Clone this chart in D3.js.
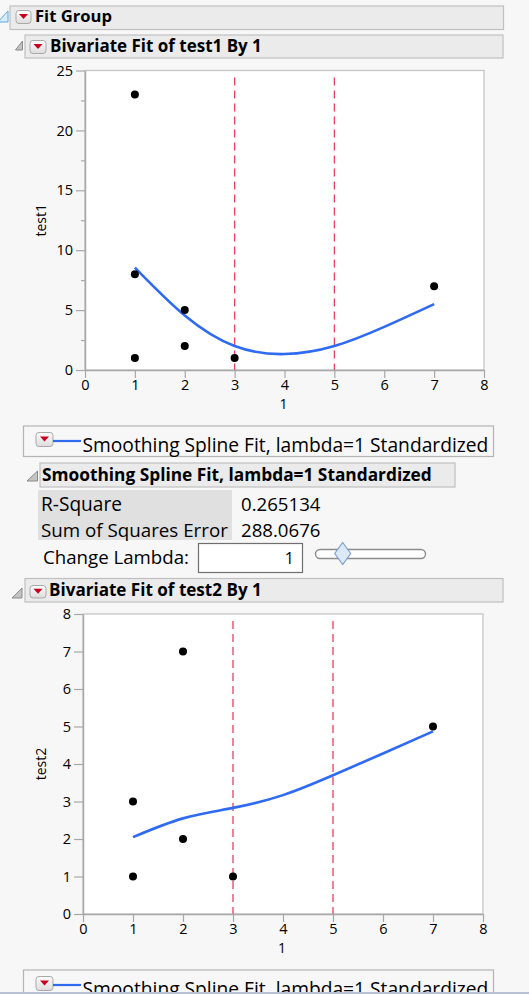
<!DOCTYPE html>
<html>
<head>
<meta charset="utf-8">
<script src="https://cdn.jsdelivr.net/npm/d3@7"></script>
<style>
  body { margin: 0; background: #f7f7f7; overflow: hidden; }
  text { font-family: "Segoe UI", "Open Sans", sans-serif; fill: #000; }
</style>
</head>
<body>
<div id="chart"></div>
<script>
// data
var xTicks = [0, 1, 2, 3, 4, 5, 6, 7, 8];
var test1X = [1, 1, 1, 2, 2, 3, 7];
var test1Y = [23, 8, 1, 5, 2, 1, 7];
var test2X = [1, 1, 2, 2, 3, 7];
var test2Y = [3, 1, 7, 2, 1, 5];
var fitX = [1, 2, 3, 4, 5, 6, 7];
var fit1Y = [8.55, 4.55, 2.0, 1.33, 2.0, 3.6, 5.5];
var fit2Y = [2.05, 2.55, 2.83, 3.17, 3.7, 4.28, 4.87];
var refLines = [3, 5];
var y1Ticks = [0, 5, 10, 15, 20, 25];
var y1Minor = [2.5, 7.5, 12.5, 17.5, 22.5];
var y2Ticks = [0, 1, 2, 3, 4, 5, 6, 7, 8];
var fitLabel = "Smoothing Spline Fit, lambda=1 Standardized";
var statNames = ["R-Square", "Sum of Squares Error"];
var statValues = ["0.265134", "288.0676"];
var lambdaValue = 1;

var width = 529, height = 994;
var FONT = '"Segoe UI", "Open Sans", sans-serif';

var svg = d3.select("#chart").append("svg")
    .attr("width", width)
    .attr("height", height)

var defs = svg.append("defs")
var grad = defs.append("linearGradient").attr("id", "btn").attr("x1", 0).attr("y1", 0).attr("x2", 0).attr("y2", 1)
grad.append("stop").attr("offset", "0%").attr("stop-color", "#fdfdfd")
grad.append("stop").attr("offset", "100%").attr("stop-color", "#dcdcdc")
defs.append("clipPath").attr("id", "page").append("rect")
    .attr("x", 0).attr("y", 0).attr("width", width).attr("height", 992)

var page = svg.append("g").attr("clip-path", "url(#page)")

// shrink/grow a text so it spans the same width as in the report
function fitText(t, w) {
  var fs = parseFloat(t.attr("font-size"))
  var l = t.node().getComputedTextLength()
  if (l > 0) t.attr("font-size", fs * w / l)
  return t
}

function label(g, x, y, str, size, weight, w) {
  var t = g.append("text")
      .attr("x", x).attr("y", y)
      .attr("font-size", size)
      .attr("font-weight", weight || "normal")
      .text(str)
  if (w) fitText(t, w)
  return t
}

function headerBox(g, x0, x1, y0, y1) {
  g.append("rect")
      .attr("x", x0 + 0.5).attr("y", y0 + 0.5)
      .attr("width", x1 - x0).attr("height", y1 - y0)
      .attr("fill", "#ebebeb")
      .attr("stroke", "#c0c0c0")
      .attr("stroke-width", 1.2)
}

function redButton(g, x0, y0, w, h) {
  g.append("rect")
      .attr("x", x0 + 0.5).attr("y", y0 + 0.5)
      .attr("width", w).attr("height", h)
      .attr("rx", 3)
      .attr("fill", "url(#btn)")
      .attr("stroke", "#a9a9a9")
  var cx = x0 + w / 2 + 0.5, cy = y0 + h / 2
  g.append("path")
      .attr("d", "M" + (cx - 4.5) + "," + (cy - 2.5) + "L" + (cx + 4.5) + "," + (cy - 2.5) + "L" + cx + "," + (cy + 2.5) + "Z")
      .attr("fill", "#c8001e")
}

function disclose(g, x0, x1, y0, y1, fill, stroke) {
  g.append("path")
      .attr("d", "M" + x0 + "," + y1 + "L" + x1 + "," + y1 + "L" + x1 + "," + y0 + "Z")
      .attr("fill", fill)
      .attr("stroke", stroke)
      .attr("stroke-width", 1)
}

// ---- outline headers
disclose(page, -2, 8, 11, 22, "#d9ecfb", "#5aa8e6")
headerBox(page, 9.5, 503, 5.5, 29)
redButton(page, 15.5, 10, 15, 13)
label(page, 35, 22, "Fit Group", 16, "bold", 77)

disclose(page, 15.5, 22.5, 41, 50, "#c4c4c4", "#8a8a8a")
headerBox(page, 24.5, 502.5, 34.5, 57.5)
redButton(page, 29.5, 40, 16, 13)
label(page, 50, 51.5, "Bivariate Fit of test1 By 1", 16, "bold", 212)

// ---- one bivariate plot
function drawPlot(cfg) {
  var g = page.append("g")

  var x = d3.scaleLinear().domain([0, 8]).range([cfg.left, cfg.right])
  var y = d3.scaleLinear().domain(cfg.yDomain).range([cfg.bottom, cfg.top])

  g.append("rect")
      .attr("x", cfg.left).attr("y", cfg.top)
      .attr("width", cfg.right - cfg.left).attr("height", cfg.bottom - cfg.top)
      .attr("fill", "#fff")
      .attr("stroke", "#c6c6c6")
      .attr("stroke-width", 1.3)

  // dashed reference lines
  g.selectAll(".ref")
      .data(refLines)
      .enter().append("line")
      .attr("x1", function(d) { return x(d) }).attr("x2", function(d) { return x(d) })
      .attr("y1", cfg.top + 7).attr("y2", cfg.bottom)
      .attr("stroke", "#e8405e")
      .attr("stroke-width", 1.3)
      .attr("stroke-dasharray", "8,5")

  // axes
  g.append("g")
      .attr("transform", "translate(" + cfg.left + ",0)")
      .call(d3.axisLeft(y).tickValues(cfg.yTicks).tickSize(9).tickSizeOuter(0).tickPadding(3))
  if (cfg.yMinor) {
    g.append("g")
        .attr("transform", "translate(" + cfg.left + ",0)")
        .call(d3.axisLeft(y).tickValues(cfg.yMinor).tickSize(4).tickSizeOuter(0).tickFormat(""))
        .select(".domain").remove()
  }
  g.append("g")
      .attr("transform", "translate(0," + cfg.bottom + ")")
      .call(d3.axisBottom(x).tickValues(xTicks).tickSize(8).tickSizeOuter(0).tickPadding(2))

  g.selectAll(".domain").attr("stroke", "#a8a8a8").attr("stroke-width", 1.5)
  g.selectAll(".tick line").attr("stroke", "#a8a8a8").attr("stroke-width", 1.2)
  g.selectAll(".tick text")
      .attr("font-family", FONT)
      .attr("font-size", 14.5)
      .attr("fill", "#000")

  // axis titles
  g.append("text")
      .attr("transform", "translate(" + 46 + "," + ((cfg.top + cfg.bottom) / 2) + ") rotate(-90)")
      .attr("text-anchor", "middle")
      .attr("font-size", 14)
      .text(cfg.yLabel)
  g.append("text")
      .attr("x", (cfg.left + cfg.right) / 2 - 1)
      .attr("y", cfg.bottom + 39)
      .attr("text-anchor", "middle")
      .attr("font-size", 14)
      .text("1")

  // smoothing spline
  var line = d3.line()
      .x(function(d, i) { return x(fitX[i]) })
      .y(function(d) { return y(d) })
      .curve(d3.curveNatural)
  g.append("path")
      .datum(cfg.fitY)
      .attr("d", line)
      .attr("fill", "none")
      .attr("stroke", "#2f6bf2")
      .attr("stroke-width", 2.6)

  // points
  g.selectAll(".pt")
      .data(cfg.ys)
      .enter().append("circle")
      .attr("r", 4)
      .attr("cx", function(d, i) { return x(cfg.xs[i]) })
      .attr("cy", function(d) { return y(d) })
      .attr("fill", "#000")
}

drawPlot({ left: 85, right: 484, top: 70.5, bottom: 370, yDomain: [0, 25],
  yTicks: y1Ticks, yMinor: y1Minor, xs: test1X, ys: test1Y, fitY: fit1Y, yLabel: "test1" })

// ---- legend row under a plot
function legendRow(top) {
  page.append("rect")
      .attr("x", 23.5).attr("y", top + 0.5)
      .attr("width", 470).attr("height", 30.5)
      .attr("fill", "none")
      .attr("stroke", "#b4b4b4")
      .attr("stroke-width", 1.2)
  redButton(page, 35.5, top + 6.5, 17, 14)
  page.append("line")
      .attr("x1", 53).attr("x2", 81)
      .attr("y1", top + 15.5).attr("y2", top + 15.5)
      .attr("stroke", "#2f6bf2")
      .attr("stroke-width", 2.2)
  label(page, 82.5, top + 26, fitLabel, 18, "normal", 406)
}

legendRow(425.5)

// ---- fit report
disclose(page, 27, 37.5, 471, 481, "#c4c4c4", "#8a8a8a")
headerBox(page, 39.5, 454.5, 462.5, 486.5)
label(page, 42, 480.5, fitLabel, 16, "bold", 390)

page.append("rect")
    .attr("x", 38).attr("y", 490)
    .attr("width", 194).attr("height", 50)
    .attr("fill", "#e0e0e0")

statNames.forEach(function(n, i) {
  label(page, 41, 510.5 + i * 26, n, 16, "normal", i == 1 ? 187 : 81)
  label(page, 241, 510.5 + i * 26, statValues[i], 16, "normal", 79.5)
})

label(page, 43, 563.5, "Change Lambda:", 16, "normal", 146)
page.append("rect")
    .attr("x", 198.5).attr("y", 543.5)
    .attr("width", 104).attr("height", 29)
    .attr("fill", "#fff")
    .attr("stroke", "#6f6f6f")
    .attr("stroke-width", 1.2)
label(page, 294, 563.5, String(lambdaValue), 16, "normal").attr("text-anchor", "end")

// slider
page.append("rect")
    .attr("x", 315.5).attr("y", 549.5)
    .attr("width", 110).attr("height", 9)
    .attr("rx", 4.5)
    .attr("fill", "#fff")
    .attr("stroke", "#8c8c8c")
    .attr("stroke-width", 1.4)
page.append("path")
    .attr("d", "M342.7,542.5L350.7,553.5L342.7,564.5L334.7,553.5Z")
    .attr("fill", "#dce9f9")
    .attr("stroke", "#7c9cc6")
    .attr("stroke-width", 1.1)

// ---- second bivariate
disclose(page, 12, 22, 588, 598, "#c4c4c4", "#8a8a8a")
headerBox(page, 24.5, 502.5, 578, 601.5)
redButton(page, 29.5, 585, 16, 12.5)
label(page, 49, 596, "Bivariate Fit of test2 By 1", 16, "bold", 213)

drawPlot({ left: 83, right: 483, top: 614, bottom: 914, yDomain: [0, 8],
  yTicks: y2Ticks, yMinor: null, xs: test2X, ys: test2Y, fitY: fit2Y, yLabel: "test2" })

// bottom legend is cut by the window edge, as in the report
legendRow(969.5)

svg.append("line")
    .attr("x1", 0).attr("x2", width)
    .attr("y1", 993).attr("y2", 993)
    .attr("stroke", "#b8c0d4")
    .attr("stroke-width", 2)
</script>
</body>
</html>
